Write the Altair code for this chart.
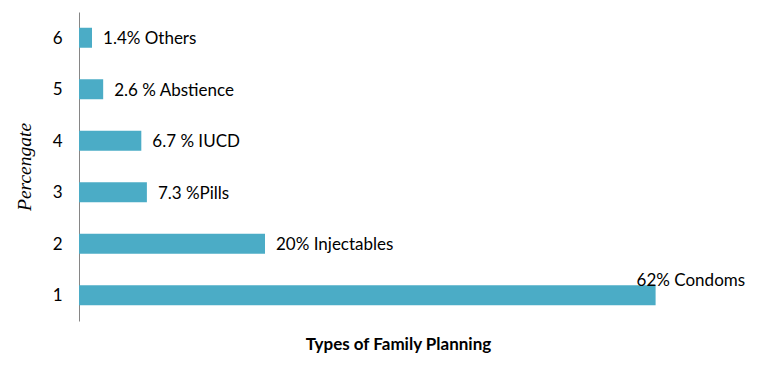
import altair as alt
import pandas as pd

# Family planning methods, ranked 1..6
ranks = ["1", "2", "3", "4", "5", "6"]
values = [62, 20, 7.3, 6.7, 2.6, 1.4]
labels = ["62% Condoms", "20% Injectables", "7.3 %Pills", "6.7 % IUCD",
          "2.6 % Abstience", "1.4% Others"]

df = pd.DataFrame({"rank": ranks, "value": values, "label": labels})

FONT = "Lato"

y_enc = alt.Y(
    "rank:O",
    sort="descending",
    title="Percengate",
    axis=alt.Axis(
        domainColor="#868686",
        ticks=False,
        labelFont=FONT,
        labelFontSize=17,
        labelColor="#000000",
        labelPadding=17,
        labelOffset=1,
        titleFont="Liberation Serif",
        titleFontStyle="italic",
        titleFontWeight="normal",
        titleFontSize=19.5,
        titleColor="#000000",
        titlePadding=18,
    ),
)

x_enc = alt.X(
    "value:Q",
    scale=alt.Scale(domain=[0, 70], nice=False),
    title="Types of Family Planning",
    axis=alt.Axis(
        domain=False,
        ticks=False,
        labels=False,
        grid=False,
        titleFont=FONT,
        titleFontSize=17,
        titleFontWeight="bold",
        titleColor="#000000",
        titlePadding=15,
        titleX=319,
    ),
)

base = alt.Chart(df)

bars = base.mark_bar(color="#4BACC6", size=20).encode(x=x_enc, y=y_enc)

side_labels = base.transform_filter(alt.datum.rank != "1").mark_text(
    align="left", baseline="middle", dx=11, dy=1.5, font=FONT, fontSize=17, color="#000000"
).encode(x="value:Q", y=alt.Y("rank:O", sort="descending"), text="label:N")

top_label = base.transform_filter(alt.datum.rank == "1").mark_text(
    align="left", baseline="middle", dx=-19, dy=-14.5, font=FONT, fontSize=17, color="#000000"
).encode(x="value:Q", y=alt.Y("rank:O", sort="descending"), text="label:N")

chart = (
    alt.layer(bars, side_labels, top_label)
    .properties(
        width=651,
        height=309,
        autosize=alt.AutoSizeParams(type="none"),
        padding={"left": 79, "top": 12, "right": 32, "bottom": 47},
    )
    .configure_view(stroke=None)
    .configure_scale(bandPaddingInner=0.6)
)

chart.save("out.html", embed_options={"renderer": "svg", "actions": False})
